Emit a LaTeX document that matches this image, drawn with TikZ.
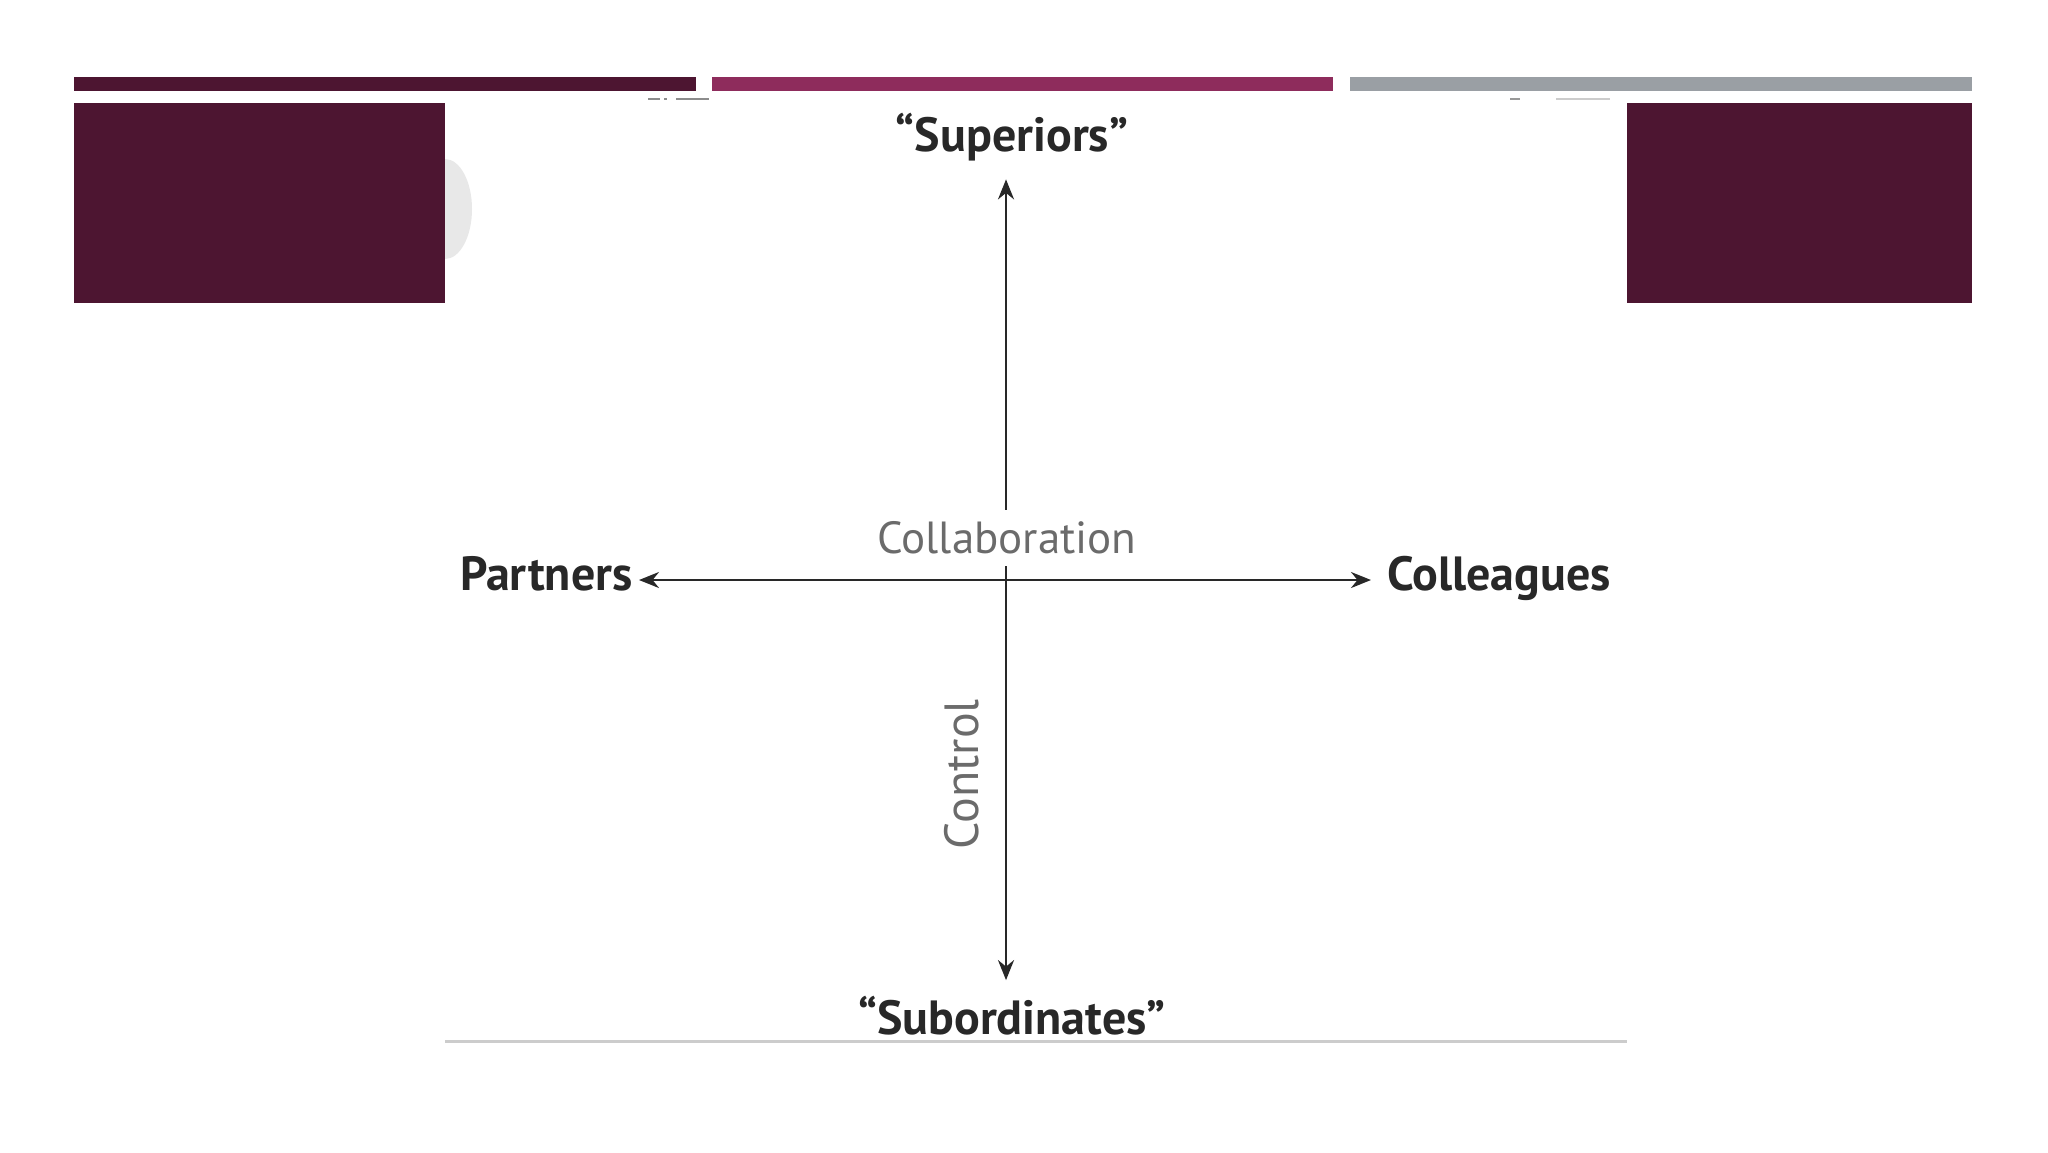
\documentclass[tikz,border=0pt]{standalone}
\usepackage{fontspec}
\setmainfont{PT Sans}
\usetikzlibrary{arrows.meta}
\definecolor{wine}{RGB}{77,21,49}
\definecolor{berry}{RGB}{142,44,92}
\definecolor{slate}{RGB}{154,159,164}
\definecolor{ink}{RGB}{40,40,40}
\tikzset{
    axis-label/.style = {text=ink, font=\fontsize{24}{28}\selectfont\bfseries, inner sep=0pt},
    axis-name/.style = {text=black!58, font=\fontsize{22.5}{26}\selectfont, inner sep=0pt},
    axis-arrow/.style = {draw=ink, line width=1.3pt, -{Stealth[length=10pt,width=8pt]}},
}
\begin{document}
\begin{tikzpicture}[x=0.5pt, y=-0.5pt]
\useasboundingbox[fill=white] (0,0) rectangle (2048,1152);
\fill[wine] (74,77) rectangle (696,91);
\fill[berry] (712,77) rectangle (1333,91);
\fill[slate] (1350,77) rectangle (1972,91);
\fill[black!9] (445,209) ellipse [x radius=13.5pt, y radius=25pt];
\fill[wine] (74,103) rectangle (445,303);
\fill[wine] (1627,103) rectangle (1972,303);
\draw[black!45, line width=1pt] (648,99) -- (660,99) (664,99) -- (667,99) (676,99) -- (709,99);
\draw[black!40, line width=1pt] (1510,99) -- (1520,99);
\draw[black!20, line width=0.6pt] (1556,99) -- (1610,99);
\draw[black!20, line width=1.5pt] (445,1041) -- (1627,1041);
\node[axis-label] (sup) at (1012,137) {“Superiors”};
\node[axis-label] (sub) at (1012,1016) {“Subordinates”};
\node[axis-label, anchor=base east] (par) at (633,590) {Partners};
\node[axis-label, anchor=base west] (col) at (1387,590) {Colleagues};
\coordinate (mid) at (1006,580);
\draw[axis-arrow] (mid) -- ([yshift=-9pt]mid |- sup.south);
\draw[axis-arrow] (mid) -- ([yshift=8pt]mid |- sub.north);
\draw[axis-arrow] (mid) -- ([xshift=3pt]mid -| par.east);
\draw[axis-arrow] (mid) -- ([xshift=-8pt]mid -| col.west);
\node[axis-name, fill=white, inner ysep=6pt] (collab) at (1007,538) {Collaboration};
\node[axis-name, font=\fontsize{24}{28}\selectfont, rotate=90] (ctrl) at (962,774) {Control};
\end{tikzpicture}
\end{document}
